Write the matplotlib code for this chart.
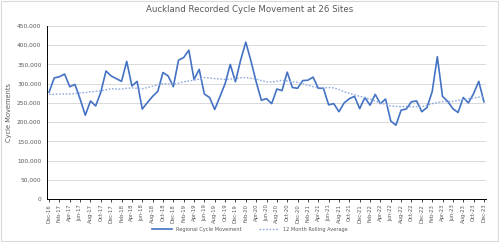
import numpy as np
import pandas as pd
import matplotlib
matplotlib.use('Agg')
import matplotlib.pyplot as plt
from matplotlib.patches import Rectangle

# monthly data, Dec-16 .. Dec-23 (thousands)
months = pd.date_range('2016-12-01', '2023-12-01', freq='MS')
movement_k = [278,
    315, 318, 325, 292, 298, 260, 218, 255, 242, 278, 333, 320,
    313, 306, 358, 294, 306, 234, 251, 267, 280, 329, 320, 292,
    361, 368, 387, 311, 337, 273, 264, 233, 266, 300, 350, 305,
    361, 408, 359, 305, 257, 261, 248, 286, 282, 330, 290, 288,
    308, 309, 317, 288, 288, 245, 248, 227, 250, 261, 267, 235,
    264, 244, 272, 248, 260, 203, 192, 231, 234, 253, 255, 227,
    238, 279, 370, 267, 254, 235, 225, 264, 250, 274, 306, 253]
rolling_k = [272,
    272, 273, 273, 273, 274, 276, 277, 279, 280, 281, 284, 287,
    286, 286, 288, 289, 288, 287, 290, 293, 297, 300, 299, 298,
    301, 305, 307, 309, 312, 316, 315, 313, 312, 311, 312, 313,
    315, 316, 314, 312, 308, 305, 304, 306, 309, 307, 305, 303,
    300, 296, 292, 290, 289, 290, 289, 285, 279, 275, 271, 267,
    264, 260, 255, 250, 246, 242, 241, 240, 241, 240, 240, 240,
    244, 248, 251, 253, 254, 254, 256, 259, 261, 263, 265, 267]
movement = np.array(movement_k) * 1000
rolling = np.array(rolling_k) * 1000
labels = [m.strftime('%b-%y') for m in months]

fig = plt.figure(figsize=(4.99, 2.42), dpi=100)
fig.patches.append(Rectangle((0.002, 0.004), 0.996, 0.992, transform=fig.transFigure,
                             fill=False, edgecolor='#D9D9D9', linewidth=0.8))
ax = fig.add_axes([47 / 499, 1 - 199 / 242, (486 - 47) / 499, (199 - 26) / 242])

x = np.arange(len(months))
ax.plot(x, movement, color='#4472C4', linewidth=1.2, label='Regional Cycle Movement')
ax.plot(x, rolling, color='#8FAADC', linewidth=1.0, linestyle=(0, (1.2, 1.2)),
        label='12 Month Rolling Average')

ax.set_ylim(0, 450000)
ax.set_yticks(np.arange(0, 450001, 50000))
ax.set_yticklabels([f'{v:,}' for v in range(0, 450001, 50000)])
ax.set_xlim(-0.4, len(months) - 0.6)
ax.set_xticks(x[::2])
ax.set_xticklabels(labels[::2], rotation=90)
ax.tick_params(axis='x', labelsize=3.8, colors='#595959', length=2, width=0.5,
               color='black', pad=1.5)
ax.tick_params(axis='y', labelsize=4.2, colors='#595959', length=0, pad=4)
ax.grid(axis='y', color='#D9D9D9', linewidth=0.7)
ax.set_axisbelow(True)
for s in ['top', 'right']:
    ax.spines[s].set_visible(False)
ax.spines['left'].set_color('black')
ax.spines['left'].set_linewidth(0.7)
ax.spines['bottom'].set_color('black')
ax.spines['bottom'].set_linewidth(0.7)
ax.set_ylabel('Cycle Movements', fontsize=4.8, color='#595959', labelpad=4)

fig.text(0.5, 1 - 10 / 242, 'Auckland Recorded Cycle Movement at 26 Sites',
         ha='center', va='center', fontsize=6.2, color='#595959')
fig.legend(loc='center', bbox_to_anchor=(0.5, 1 - 229 / 242), ncol=2, frameon=False,
           fontsize=3.6, labelcolor='#595959', handlelength=4, columnspacing=3.5)

plt.savefig('out.png', dpi=100)
plt.close()
